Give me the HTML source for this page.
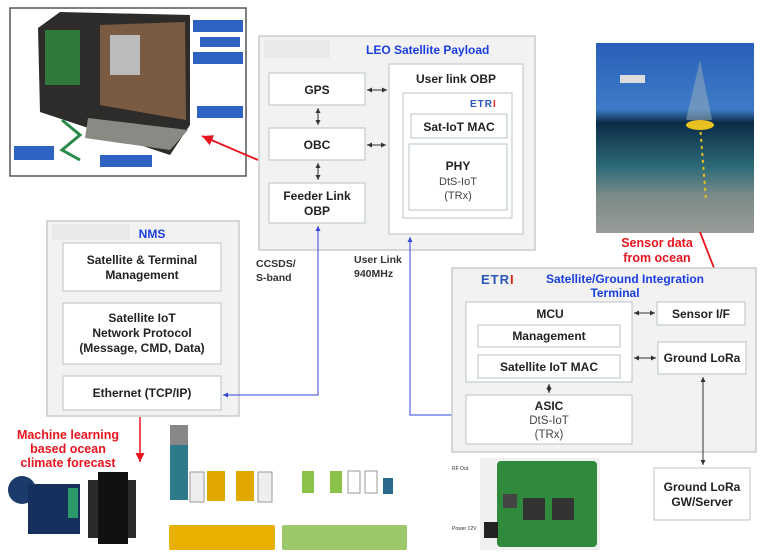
<!DOCTYPE html>
<html><head><meta charset="utf-8"><style>
html,body{margin:0;padding:0;background:#fff;}
svg{display:block;}
text{font-family:"Liberation Sans",Arial,sans-serif;}
.b{font-weight:bold;font-size:12px;fill:#222;}
.t{font-weight:bold;font-size:12px;fill:#1a3ee0;}
.r{font-weight:bold;font-size:12.5px;fill:#e8141e;}
</style></head><body>
<svg width="768" height="555" viewBox="0 0 768 555" xmlns="http://www.w3.org/2000/svg">
<defs>
<marker id="ak" markerWidth="6" markerHeight="6" refX="5" refY="3" orient="auto-start-reverse"><path d="M0,0.5 L5,3 L0,5.5z" fill="#333"/></marker>
<marker id="ab" markerWidth="6" markerHeight="6" refX="5" refY="3" orient="auto-start-reverse"><path d="M0,0.5 L5,3 L0,5.5z" fill="#3344dd"/></marker>
<marker id="ar" markerWidth="7" markerHeight="7" refX="6" refY="3.5" orient="auto"><path d="M0,0.5 L6,3.5 L0,6.5z" fill="#e8141e"/></marker>
<linearGradient id="sea" x1="0" y1="0" x2="0" y2="1"><stop offset="0" stop-color="#2a5fb8"/><stop offset="0.35" stop-color="#3d7cc8"/><stop offset="0.42" stop-color="#0b2b45"/><stop offset="0.65" stop-color="#2c6a78"/><stop offset="0.8" stop-color="#7a8a88"/><stop offset="1" stop-color="#9a9c98"/></linearGradient>
</defs>
<rect width="768" height="555" fill="#fff"/>

<!-- top-left satellite image -->
<rect x="10" y="8" width="236" height="168" fill="#fff" stroke="#555" stroke-width="1.5"/>
<polygon points="38,28 60,12 190,15 190,125 170,155 40,112" fill="#2e2c2a"/>
<polygon points="100,25 185,22 186,120 100,105" fill="#7a5a40"/>
<polygon points="88,118 188,130 170,150 85,138" fill="#8a8a84"/>
<rect x="45" y="30" width="35" height="55" fill="#2f7a3a"/>
<rect x="110" y="35" width="30" height="40" fill="#bbb"/>
<rect x="193" y="20" width="50" height="12" fill="#2f62c2"/>
<rect x="200" y="37" width="40" height="10" fill="#2f62c2"/>
<rect x="193" y="52" width="50" height="12" fill="#2f62c2"/>
<rect x="197" y="106" width="46" height="12" fill="#2f62c2"/>
<rect x="14" y="146" width="40" height="14" fill="#2f62c2"/>
<rect x="100" y="155" width="52" height="12" fill="#2f62c2"/>
<path d="M62,120 L80,135 L62,150 L80,160" stroke="#2a8a4a" stroke-width="3" fill="none"/>

<line x1="258" y1="160" x2="202" y2="136" stroke="#e8141e" stroke-width="1.8" marker-end="url(#ar)"/>

<!-- LEO payload -->
<rect x="259" y="36" width="276" height="214" fill="#f2f2f2" stroke="#c8cccc" stroke-width="1.5"/>
<rect x="264" y="40" width="66" height="18" fill="#e9e9e9"/>
<text class="t" x="366" y="54">LEO Satellite Payload</text>
<rect x="269" y="73" width="96" height="32" fill="#fff" stroke="#b8c4c4"/>
<text class="b" x="317" y="94" text-anchor="middle">GPS</text>
<rect x="269" y="128" width="96" height="32" fill="#fff" stroke="#b8c4c4"/>
<text class="b" x="317" y="149" text-anchor="middle">OBC</text>
<rect x="269" y="183" width="96" height="40" fill="#fff" stroke="#b8c4c4"/>
<text class="b" x="317" y="200" text-anchor="middle">Feeder Link</text>
<text class="b" x="317" y="215" text-anchor="middle">OBP</text>
<line x1="318" y1="108" x2="318" y2="125" stroke="#333" marker-start="url(#ak)" marker-end="url(#ak)"/>
<line x1="318" y1="163" x2="318" y2="180" stroke="#333" marker-start="url(#ak)" marker-end="url(#ak)"/>
<line x1="367" y1="90" x2="387" y2="90" stroke="#333" marker-start="url(#ak)" marker-end="url(#ak)"/>
<line x1="367" y1="145" x2="386" y2="145" stroke="#333" marker-start="url(#ak)" marker-end="url(#ak)"/>
<rect x="389" y="64" width="134" height="170" fill="#fff" stroke="#b8c4c4"/>
<text class="b" x="456" y="83" text-anchor="middle">User link OBP</text>
<rect x="403" y="93" width="109" height="125" fill="#fff" stroke="#b8c4c4"/>
<text x="470" y="107" font-family="Liberation Sans" font-weight="bold" font-size="10" fill="#2a55b8" letter-spacing="1">ETR<tspan fill="#d22">I</tspan></text>
<rect x="411" y="114" width="96" height="24" fill="#fff" stroke="#b8c4c4"/>
<text class="b" x="459" y="131" text-anchor="middle">Sat-IoT MAC</text>
<rect x="409" y="144" width="98" height="66" fill="#fff" stroke="#b8c4c4"/>
<text class="b" x="458" y="170" text-anchor="middle">PHY</text>
<text x="458" y="185" font-size="11" fill="#444" text-anchor="middle">DtS-IoT</text>
<text x="458" y="199" font-size="11" fill="#444" text-anchor="middle">(TRx)</text>

<text x="256" y="267" font-size="10.5" font-weight="bold" fill="#333">CCSDS/</text>
<text x="256" y="281" font-size="10.5" font-weight="bold" fill="#333">S-band</text>
<text x="354" y="263" font-size="10.5" font-weight="bold" fill="#333">User Link</text>
<text x="354" y="277" font-size="10.5" font-weight="bold" fill="#333">940MHz</text>

<!-- NMS -->
<rect x="47" y="221" width="192" height="195" fill="#f2f2f2" stroke="#c8cccc" stroke-width="1.5"/>
<rect x="52" y="224" width="78" height="16" fill="#e9e9e9"/>
<text class="t" x="152" y="238" text-anchor="middle">NMS</text>
<rect x="63" y="243" width="158" height="48" fill="#fff" stroke="#b8c4c4"/>
<text class="b" x="142" y="264" text-anchor="middle">Satellite &amp; Terminal</text>
<text class="b" x="142" y="279" text-anchor="middle">Management</text>
<rect x="63" y="303" width="158" height="61" fill="#fff" stroke="#b8c4c4"/>
<text class="b" x="142" y="322" text-anchor="middle">Satellite IoT</text>
<text class="b" x="142" y="337" text-anchor="middle">Network Protocol</text>
<text class="b" x="142" y="352" text-anchor="middle">(Message, CMD, Data)</text>
<rect x="63" y="376" width="158" height="34" fill="#fff" stroke="#b8c4c4"/>
<text class="b" x="142" y="397" text-anchor="middle">Ethernet (TCP/IP)</text>

<polyline points="318,226 318,395 223,395" fill="none" stroke="#3344dd" marker-start="url(#ab)" marker-end="url(#ab)"/>
<polyline points="410,237 410,415 464,415" fill="none" stroke="#3344dd" marker-start="url(#ab)" marker-end="url(#ab)"/>

<!-- ocean image -->
<rect x="596" y="43" width="158" height="190" fill="url(#sea)"/>
<ellipse cx="700" cy="125" rx="14" ry="5" fill="#e8c020"/>
<line x1="700" y1="125" x2="706" y2="200" stroke="#e8c020" stroke-dasharray="3,4" stroke-width="2"/>
<polygon points="686,120 700,60 712,120" fill="#9cb0b8" opacity="0.5"/>
<rect x="620" y="75" width="25" height="8" fill="#ddd"/>
<text class="r" x="657" y="247" text-anchor="middle">Sensor data</text>
<text class="r" x="657" y="262" text-anchor="middle">from ocean</text>
<line x1="700" y1="232" x2="726" y2="299" stroke="#e8141e" stroke-width="1.8" marker-end="url(#ar)"/>

<!-- terminal -->
<rect x="452" y="268" width="304" height="184" fill="#f2f2f2" stroke="#c8cccc" stroke-width="1.5"/>
<text x="481" y="284" font-family="Liberation Sans" font-weight="bold" font-size="13" fill="#2a55b8" letter-spacing="1">ETR<tspan fill="#d22">I</tspan></text>
<text class="t" x="625" y="283" text-anchor="middle">Satellite/Ground Integration</text>
<text class="t" x="615" y="297" text-anchor="middle">Terminal</text>
<rect x="466" y="302" width="166" height="80" fill="#fff" stroke="#b8c4c4"/>
<text class="b" x="550" y="318" text-anchor="middle">MCU</text>
<rect x="478" y="325" width="142" height="22" fill="#fff" stroke="#b8c4c4"/>
<text class="b" x="549" y="340" text-anchor="middle">Management</text>
<rect x="478" y="355" width="142" height="23" fill="#fff" stroke="#b8c4c4"/>
<text class="b" x="549" y="371" text-anchor="middle">Satellite IoT MAC</text>
<line x1="549" y1="384" x2="549" y2="393" stroke="#333" marker-start="url(#ak)" marker-end="url(#ak)"/>
<rect x="466" y="395" width="166" height="49" fill="#fff" stroke="#b8c4c4"/>
<text class="b" x="549" y="410" text-anchor="middle">ASIC</text>
<text x="549" y="424" font-size="11.5" fill="#444" text-anchor="middle">DtS-IoT</text>
<text x="549" y="438" font-size="11.5" fill="#444" text-anchor="middle">(TRx)</text>
<rect x="657" y="302" width="88" height="23" fill="#fff" stroke="#b8c4c4"/>
<text class="b" x="701" y="318" text-anchor="middle">Sensor I/F</text>
<rect x="658" y="342" width="88" height="32" fill="#fff" stroke="#b8c4c4"/>
<text class="b" x="702" y="362" text-anchor="middle">Ground LoRa</text>
<line x1="634" y1="313" x2="655" y2="313" stroke="#333" marker-start="url(#ak)" marker-end="url(#ak)"/>
<line x1="634" y1="358" x2="656" y2="358" stroke="#333" marker-start="url(#ak)" marker-end="url(#ak)"/>
<line x1="703" y1="377" x2="703" y2="465" stroke="#333" marker-start="url(#ak)" marker-end="url(#ak)"/>
<rect x="654" y="468" width="96" height="52" fill="#fff" stroke="#b8c4c4"/>
<text class="b" x="702" y="491" text-anchor="middle">Ground LoRa</text>
<text class="b" x="702" y="506" text-anchor="middle">GW/Server</text>

<!-- PCB -->
<rect x="480" y="458" width="120" height="92" fill="#f0f0f0"/>
<rect x="497" y="461" width="100" height="86" rx="4" fill="#2f8a3c"/>
<rect x="523" y="498" width="22" height="22" fill="#333"/>
<rect x="552" y="498" width="22" height="22" fill="#333"/>
<rect x="503" y="494" width="14" height="14" fill="#444"/>
<rect x="484" y="522" width="14" height="16" fill="#222"/>
<text x="452" y="470" font-size="5" fill="#333">RF Out</text>
<text x="452" y="530" font-size="5" fill="#333">Power 12V</text>

<!-- ML text -->
<text class="r" x="68" y="439" text-anchor="middle">Machine learning</text>
<text class="r" x="68" y="453" text-anchor="middle">based ocean</text>
<text class="r" x="68" y="467" text-anchor="middle">climate forecast</text>
<line x1="140" y1="417" x2="140" y2="462" stroke="#e8141e" stroke-width="1.5" marker-end="url(#ar)"/>

<!-- AI image -->
<circle cx="22" cy="490" r="14" fill="#1b3c6a"/>
<rect x="28" y="484" width="52" height="50" fill="#16305e"/>
<rect x="68" y="488" width="10" height="30" fill="#2a9a6a"/>
<!-- servers -->
<rect x="88" y="480" width="48" height="58" fill="#2a2a2a"/>
<rect x="98" y="472" width="30" height="72" fill="#111"/>
<!-- ML diagram -->
<rect x="170" y="440" width="18" height="60" fill="#2c7a8a"/>
<rect x="170" y="425" width="18" height="20" fill="#888"/>
<rect x="190" y="472" width="14" height="30" fill="#eee" stroke="#999"/>
<rect x="207" y="471" width="18" height="30" fill="#e0a800"/>
<rect x="236" y="471" width="18" height="30" fill="#e0a800"/>
<rect x="258" y="472" width="14" height="30" fill="#eee" stroke="#999"/>
<rect x="302" y="471" width="12" height="22" fill="#8bc34a"/>
<rect x="330" y="471" width="12" height="22" fill="#8bc34a"/>
<rect x="348" y="471" width="12" height="22" fill="#fff" stroke="#999"/>
<rect x="365" y="471" width="12" height="22" fill="#fff" stroke="#999"/>
<rect x="383" y="478" width="10" height="16" fill="#2a6a8a"/>
<rect x="169" y="525" width="106" height="25" rx="2" fill="#e8b000"/>
<rect x="282" y="525" width="125" height="25" rx="2" fill="#9cc86a"/>
</svg>
</body></html>
